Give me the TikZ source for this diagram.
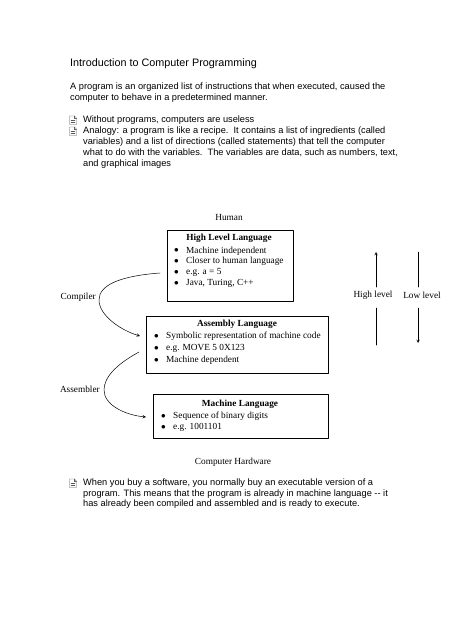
\documentclass[tikz,border=0pt]{standalone}
\usepackage{fontspec}
\setmainfont{Liberation Serif}
\newfontfamily\sansfont{Liberation Sans}
\usetikzlibrary{arrows}
\tikzset{
  body/.style={anchor=west,inner sep=0pt,font=\sansfont\fontsize{9.25}{11}\selectfont},
  heading/.style={anchor=west,inner sep=0pt,font=\sansfont\fontsize{10.8}{13}\selectfont},
  diag/.style={inner sep=0pt,font=\fontsize{9.3}{11}\selectfont},
  item/.style={diag,anchor=west},
  boxtitle/.style={diag,font=\bfseries\fontsize{9.3}{11}\selectfont},
  langbox/.style={draw,line width=0.6pt,inner sep=0pt},
}
\newcommand{\docicon}[1]{%
  \begin{scope}[shift={#1},line width=0.35pt,draw=black!65]
    \draw (-3.5,-4) -- (1.5,-4) -- (3.5,-2) -- (3.5,4.5) -- (-3.5,4.5) -- cycle;
    \draw (1.5,-4) -- (1.5,-2) -- (3.5,-2);
    \foreach \l in {0.3,2.6} \draw (-2,\l) -- (2,\l);
  \end{scope}}

\begin{document}
\begin{tikzpicture}[line cap=round,line join=round,>=stealth,x=1pt,y=-1pt]
  \useasboundingbox[fill=white] (0,0) rectangle (474,632);
  % text above the diagram
  \node[heading] (title) at (70,64) {Introduction to Computer Programming};
  \node[body] (par1) at (70,87) {A program is an organized list of instructions that when executed, caused the};
  \node[body] (par2) at (70,98) {computer to behave in a predetermined manner.};
  \docicon{(73,120)}
  \node[body] (pt1) at (83,120) {Without programs, computers are useless};
  \docicon{(73,131)}
  \node[body] (pt2a) at (83,131) {Analogy: a program is like a recipe.\ \ It contains a list of ingredients (called};
  \node[body] (pt2b) at (83,142) {variables) and a list of directions (called statements) that tell the computer};
  \node[body] (pt2c) at (83,153) {what to do with the variables.\ \ The variables are data, such as numbers, text,};
  \node[body] (pt2d) at (83,164) {and graphical images};

  % the three levels
  \node[diag] (human) at (229,217) {Human};
  \node[langbox,minimum width=126pt,minimum height=71pt] (high) at (230,265.5) {};
  \node[boxtitle] (hightitle) at (229,238) {High Level Language};
  \foreach \t [count=\i] in {Machine independent,Closer to human language,e.g. a = 5,{Java, Turing, C++}} {
    \node[item] (hb\i) at (174,{240+\i*10.8}) {$\bullet$};
    \node[item] (hl\i) at (186,{240+\i*10.8}) {\t};
  }
  \node[langbox,minimum width=182pt,minimum height=57pt] (asm) at (237,344.5) {};
  \node[boxtitle] (asmtitle) at (237,324) {Assembly Language};
  \foreach \t [count=\i] in {Symbolic representation of machine code,e.g. MOVE 5 0X123,Machine dependent} {
    \node[item] (ab\i) at (154,{324+\i*12}) {$\bullet$};
    \node[item] (al\i) at (166,{324+\i*12}) {\t};
  }
  \node[langbox,minimum width=175pt,minimum height=44pt] (mach) at (240.5,416) {};
  \node[boxtitle] (machtitle) at (240,404) {Machine Language};
  \foreach \t [count=\i] in {Sequence of binary digits,e.g. 1001101} {
    \node[item] (mb\i) at (161,{405+\i*11}) {$\bullet$};
    \node[item] (ml\i) at (173,{405+\i*11}) {\t};
  }
  \node[diag] (hardware) at (233,462) {Computer Hardware};

  % compiler and assembler
  \node[diag,anchor=east] (compiler) at (96,297) {Compiler};
  \node[diag,anchor=east] (assembler) at (100,389) {Assembler};
  \coordinate (cstart) at (160,273);
  \coordinate (cend) at (140,336);
  \coordinate (astart) at (139,352);
  \coordinate (aend) at (146,417);
  \draw[->,line width=0.5pt] (cstart) .. controls (120,276) and (99,285) .. (99,300)
    .. controls (99,315) and (120,330) .. (cend);
  \draw[->,line width=0.5pt] (astart) .. controls (115,365) and (104,378) .. (104,390)
    .. controls (104,405) and (125,415) .. (aend);

  % level arrows
  \node[diag] (highlevel) at (373,295) {High level};
  \node[diag] (lowlevel) at (422,295) {Low level};
  \coordinate (hitop) at (376,252);
  \coordinate (hiup) at (376,287);
  \coordinate (hidown) at (376,308);
  \coordinate (hibot) at (376,345);
  \coordinate (lotop) at (418,252);
  \coordinate (loup) at (418,287);
  \coordinate (lodown) at (418,308);
  \coordinate (lobot) at (418,343);
  \draw[->,line width=0.5pt] (hiup) -- (hitop);
  \draw[line width=0.5pt] (hidown) -- (hibot);
  \draw[line width=0.5pt] (lotop) -- (loup);
  \draw[->,line width=0.5pt] (lodown) -- (lobot);

  % text below the diagram
  \docicon{(73,483)}
  \node[body] (pt3a) at (83,483) {When you buy a software, you normally buy an executable version of a};
  \node[body] (pt3b) at (83,494) {program. This means that the program is already in machine language -\kern0pt- it};
  \node[body] (pt3c) at (83,504) {has already been compiled and assembled and is ready to execute.};
\end{tikzpicture}
\end{document}
